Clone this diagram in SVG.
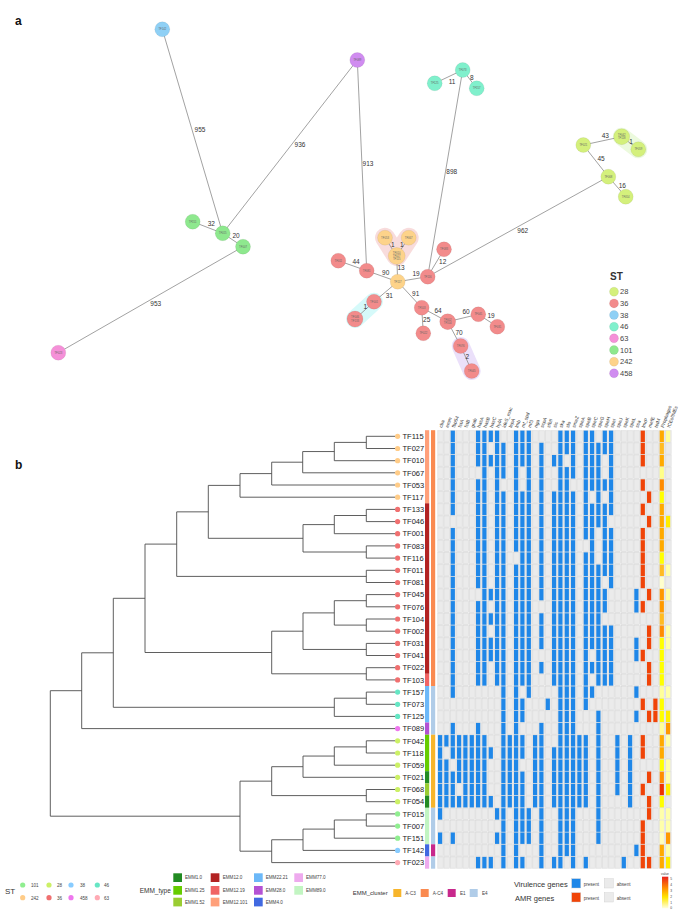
<svg xmlns="http://www.w3.org/2000/svg" xmlns:xlink="http://www.w3.org/1999/xlink" width="685" height="915" viewBox="0 0 685 915">
<style>
text{font-family:"Liberation Sans",Arial,sans-serif}
.e{stroke:#8a8a8a;stroke-width:0.8;fill:none}
.el{font-size:6.5px;fill:#333;text-anchor:middle}
.nl{font-size:2.7px;fill:#666;text-anchor:middle}
.nd circle{stroke:#000;stroke-opacity:0.12;stroke-width:0.5}
.c28{fill:#d4f07c}.c36{fill:#f28b8b}.c38{fill:#8fd0f5}.c46{fill:#80f0cc}.c63{fill:#f590d8}.c101{fill:#8ee88e}.c242{fill:#fdd38a}.c458{fill:#d08cf0}
.d101{fill:#90ee90}.d28{fill:#ccf066}.d38{fill:#88ccff}.d46{fill:#66e6c4}.d242{fill:#ffcc88}.d36{fill:#f07070}.d458{fill:#ee77ee}.d63{fill:#ffaab4}
.tree{stroke:#4d4d4d;stroke-width:0.9;fill:none}
.lf{font-size:7.5px;fill:#222}
.hd{font-size:4.8px;fill:#333}
.sl{font-size:7.5px;fill:#444}
.lg{font-size:4.6px;fill:#444}
.sh{fill:none;stroke-linecap:round;stroke-opacity:0.75}
</style>
<defs>
<pattern id="grid" patternUnits="userSpaceOnUse" x="437.3" y="430.2" width="6.333" height="12.18">
<rect x="0.3" y="0.3" width="5.6" height="11.6" fill="#ebebeb" stroke="#cdcdcd" stroke-width="0.4"/>
</pattern>
<rect id="v" y="0.4" width="4.2" height="11.4" fill="#1f87e8"/>
<rect id="r" y="0.4" width="4.2" height="11.4" fill="#f04408"/>
<linearGradient id="vg" x1="0" y1="0" x2="0" y2="1">
<stop offset="0" stop-color="#e8201c"/><stop offset="0.35" stop-color="#ff8c00"/><stop offset="0.65" stop-color="#ffe600"/><stop offset="1" stop-color="#ffffe0"/>
</linearGradient>
</defs>
<rect width="685" height="915" fill="#fff"/>
<text x="15" y="25" font-size="12" font-weight="bold" fill="#111">a</text>
<text x="15" y="469" font-size="12" font-weight="bold" fill="#111">b</text>

<!-- network shading -->
<g id="shading">
<path class="sh" d="M385,237.7L396.7,256L408.7,237.7" stroke="#f6d0d0" stroke-width="20" stroke-linejoin="round"/>
<path class="sh" d="M374,301.7L355,319" stroke="#c8f8f8" stroke-width="18"/>
<path class="sh" d="M460.7,346L471.7,371" stroke="#e4d6f8" stroke-width="18"/>
<path class="sh" d="M621.7,136.7L638.3,149.3" stroke="#e6f8d2" stroke-width="18"/>
</g>

<g id="network-edges">
<path class="e" d="M162.3,29.3L222.7,233.3M222.7,233.3L357.3,60M222.7,233.3L192.7,221.7M222.7,233.3L243,246.7M243,246.7L58.3,352.7M357.3,60L366.7,270.7M462.7,70L427.7,276.7M462.7,70L434.7,83.3M462.7,70L476.7,88.3M427.7,276.7L608.3,176.7M608.3,176.7L583.3,145M608.3,176.7L625.7,196.7M583.3,145L621.7,136.7M621.7,136.7L638.3,149.3M385,237.7L396.7,256M408.7,237.7L396.7,256M396.7,256L397.7,281.7M397.7,281.7L366.7,270.7M366.7,270.7L338.3,260.7M397.7,281.7L427.7,276.7M427.7,276.7L444,249.3M397.7,281.7L374,301.7M374,301.7L355,319M397.7,281.7L421.7,307.7M421.7,307.7L423.3,333.3M421.7,307.7L447.7,321.7M447.7,321.7L478.3,314.3M478.3,314.3L497.3,326.7M447.7,321.7L460.7,346M460.7,346L471.7,371"/>
<text class="el" x="200" y="131.6">955</text>
<text class="el" x="300" y="147.3">936</text>
<text class="el" x="211.3" y="225.6">32</text>
<text class="el" x="236" y="238">20</text>
<text class="el" x="155.7" y="306.3">953</text>
<text class="el" x="368" y="165.6">913</text>
<text class="el" x="451.7" y="174">898</text>
<text class="el" x="452" y="83.6">11</text>
<text class="el" x="471.7" y="79.6">8</text>
<text class="el" x="522.7" y="233">962</text>
<text class="el" x="601" y="161.3">45</text>
<text class="el" x="622.3" y="187.6">16</text>
<text class="el" x="605.3" y="137.6">43</text>
<text class="el" x="631" y="144">1</text>
<text class="el" x="392.7" y="247.3">1</text>
<text class="el" x="401.7" y="247.3">1</text>
<text class="el" x="401" y="270">13</text>
<text class="el" x="356" y="264">44</text>
<text class="el" x="385.7" y="274.6">90</text>
<text class="el" x="442.7" y="264">12</text>
<text class="el" x="416" y="276.3">19</text>
<text class="el" x="389.3" y="298.3">31</text>
<text class="el" x="365.3" y="309">1</text>
<text class="el" x="415.7" y="295.6">91</text>
<text class="el" x="426.7" y="321.6">25</text>
<text class="el" x="438" y="313">64</text>
<text class="el" x="466" y="314.3">60</text>
<text class="el" x="491" y="318.3">19</text>
<text class="el" x="459" y="334.6">70</text>
<text class="el" x="467.3" y="359">2</text>
</g>

<g id="network-nodes" class="nd">
<g id="n-TF142"><circle class="c38" cx="162.3" cy="29.3" r="7.5"/><text class="nl" x="162.3" y="30.2">TF142</text></g>
<g id="n-TF151"><circle class="c101" cx="192.7" cy="221.7" r="7.5"/><text class="nl" x="192.7" y="222.6">TF151</text></g>
<g id="n-TF015"><circle class="c101" cx="222.7" cy="233.3" r="7.5"/><text class="nl" x="222.7" y="234.2">TF015</text></g>
<g id="n-TF007"><circle class="c101" cx="243" cy="246.7" r="7.5"/><text class="nl" x="243" y="247.6">TF007</text></g>
<g id="n-TF023"><circle class="c63" cx="58.3" cy="352.7" r="7.5"/><text class="nl" x="58.3" y="353.6">TF023</text></g>
<g id="n-TF089"><circle class="c458" cx="357.3" cy="60" r="7.5"/><text class="nl" x="357.3" y="60.9">TF089</text></g>
<g id="n-TF073"><circle class="c46" cx="462.7" cy="70" r="7.5"/><text class="nl" x="462.7" y="70.9">TF073</text></g>
<g id="n-TF125"><circle class="c46" cx="434.7" cy="83.3" r="7.5"/><text class="nl" x="434.7" y="84.2">TF125</text></g>
<g id="n-TF157"><circle class="c46" cx="476.7" cy="88.3" r="7.5"/><text class="nl" x="476.7" y="89.2">TF157</text></g>
<g id="n-TF053"><circle class="c242" cx="385" cy="237.7" r="7.5"/><text class="nl" x="385" y="238.6">TF053</text></g>
<g id="n-TF067"><circle class="c242" cx="408.7" cy="237.7" r="7.5"/><text class="nl" x="408.7" y="238.6">TF067</text></g>
<g id="n-TF010-TF027-TF115"><circle class="c242" cx="396.7" cy="256" r="8.5"/><text class="nl" x="396.7" y="253.6">TF010</text><text class="nl" x="396.7" y="256.9">TF027</text><text class="nl" x="396.7" y="260.2">TF115</text></g>
<g id="n-TF117"><circle class="c242" cx="397.7" cy="281.7" r="7.5"/><text class="nl" x="397.7" y="282.6">TF117</text></g>
<g id="n-TF011"><circle class="c36" cx="338.3" cy="260.7" r="7.5"/><text class="nl" x="338.3" y="261.6">TF011</text></g>
<g id="n-TF081"><circle class="c36" cx="366.7" cy="270.7" r="7.5"/><text class="nl" x="366.7" y="271.6">TF081</text></g>
<g id="n-TF116"><circle class="c36" cx="427.7" cy="276.7" r="7.5"/><text class="nl" x="427.7" y="277.6">TF116</text></g>
<g id="n-TF083"><circle class="c36" cx="444" cy="249.3" r="7.5"/><text class="nl" x="444" y="250.2">TF083</text></g>
<g id="n-TF001"><circle class="c36" cx="374" cy="301.7" r="7.5"/><text class="nl" x="374" y="302.6">TF001</text></g>
<g id="n-TF046-TF133"><circle class="c36" cx="355" cy="319" r="8"/><text class="nl" x="355" y="318.2">TF046</text><text class="nl" x="355" y="321.5">TF133</text></g>
<g id="n-TF103"><circle class="c36" cx="421.7" cy="307.7" r="7.5"/><text class="nl" x="421.7" y="308.6">TF103</text></g>
<g id="n-TF022"><circle class="c36" cx="423.3" cy="333.3" r="7.5"/><text class="nl" x="423.3" y="334.2">TF022</text></g>
<g id="n-TF002-TF104"><circle class="c36" cx="447.7" cy="321.7" r="8"/><text class="nl" x="447.7" y="320.9">TF002</text><text class="nl" x="447.7" y="324.2">TF104</text></g>
<g id="n-TF041"><circle class="c36" cx="478.3" cy="314.3" r="7.5"/><text class="nl" x="478.3" y="315.2">TF041</text></g>
<g id="n-TF031"><circle class="c36" cx="497.3" cy="326.7" r="7.5"/><text class="nl" x="497.3" y="327.6">TF031</text></g>
<g id="n-TF076"><circle class="c36" cx="460.7" cy="346" r="7.5"/><text class="nl" x="460.7" y="346.9">TF076</text></g>
<g id="n-TF045"><circle class="c36" cx="471.7" cy="371" r="7.5"/><text class="nl" x="471.7" y="371.9">TF045</text></g>
<g id="n-TF021"><circle class="c28" cx="583.3" cy="145" r="7.5"/><text class="nl" x="583.3" y="145.9">TF021</text></g>
<g id="n-TF042-TF118"><circle class="c28" cx="621.7" cy="136.7" r="8"/><text class="nl" x="621.7" y="135.9">TF042</text><text class="nl" x="621.7" y="139.2">TF118</text></g>
<g id="n-TF059"><circle class="c28" cx="638.3" cy="149.3" r="7.5"/><text class="nl" x="638.3" y="150.2">TF059</text></g>
<g id="n-TF068"><circle class="c28" cx="608.3" cy="176.7" r="7.5"/><text class="nl" x="608.3" y="177.6">TF068</text></g>
<g id="n-TF054"><circle class="c28" cx="625.7" cy="196.7" r="7.5"/><text class="nl" x="625.7" y="197.6">TF054</text></g>
</g>

<g id="st-legend-a" class="nd">
<text x="610" y="280" font-size="10" font-weight="bold" fill="#333">ST</text>
<circle class="c28" cx="614" cy="291.7" r="4.5"/><text class="sl" x="620" y="294.4">28</text>
<circle class="c36" cx="614" cy="303.4" r="4.5"/><text class="sl" x="620" y="306.1">36</text>
<circle class="c38" cx="614" cy="315" r="4.5"/><text class="sl" x="620" y="317.7">38</text>
<circle class="c46" cx="614" cy="326.7" r="4.5"/><text class="sl" x="620" y="329.4">46</text>
<circle class="c63" cx="614" cy="338.3" r="4.5"/><text class="sl" x="620" y="341">63</text>
<circle class="c101" cx="614" cy="350" r="4.5"/><text class="sl" x="620" y="352.7">101</text>
<circle class="c242" cx="614" cy="361.7" r="4.5"/><text class="sl" x="620" y="364.4">242</text>
<circle class="c458" cx="614" cy="373.3" r="4.5"/><text class="sl" x="620" y="376">458</text>
</g>

<!-- tree -->
<g id="tree-edges">
<path class="tree" d="M50.3,690.7V816.2M81.7,652.8V728.6M113.3,598.3V707.3M145,544.1V652.5M176.7,511.85V576.4M208.3,485.4V538.3M240,473.6V497.2M271.7,462.2V485M302.7,451.55V472.8M334.3,442.4V460.7M366.3,436.3V448.5M366.3,509.4V521.6M334.3,515.5V533.7M366.3,545.9V558.1M303,524.6V552M366.3,570.3V582.5M366.3,594.6V606.8M366.3,619V631.2M334.3,600.7V625.1M366.3,643.4V655.5M303,612.9V649.45M366.3,667.7V679.9M271.7,631.2V673.8M366.3,692.1V704.3M334.3,698.2V716.4M366.3,740.8V753M334.3,746.9V765.2M303,756.05V777.3M366.3,789.5V801.7M271.7,766.7V795.6M366.3,813.9V826.1M334.3,820V838.2M303,829.1V850.4M271.7,839.75V862.6M240,781.15V851.2
M50.3,690.7H81.7M50.3,816.2H240M81.7,652.8H113.3M81.7,728.6H395M113.3,598.3H145M113.3,707.3H334.3M145,544.1H176.7M145,652.5H271.7M176.7,511.85H208.3M176.7,576.4H366.3M208.3,485.4H240M208.3,538.3H303M240,473.6H271.7M240,497.2H395M271.7,462.2H302.7M271.7,485H395M302.7,451.55H334.3M302.7,472.8H395M334.3,442.4H366.3M334.3,460.7H395M366.3,436.3H395M366.3,448.5H395
M303,524.6H334.3M303,552H366.3M334.3,515.5H366.3M334.3,533.7H395M366.3,509.4H395M366.3,521.6H395M366.3,545.9H395M366.3,558.1H395M366.3,570.3H395M366.3,582.5H395
M271.7,631.2H303M271.7,673.8H366.3M303,612.9H334.3M303,649.45H366.3M334.3,600.7H366.3M334.3,625.1H366.3M366.3,594.6H395M366.3,606.8H395M366.3,619H395M366.3,631.2H395M366.3,643.4H395M366.3,655.5H395M366.3,667.7H395M366.3,679.9H395
M334.3,698.2H366.3M334.3,716.4H395M366.3,692.1H395M366.3,704.3H395
M240,781.15H271.7M240,851.2H271.7M271.7,766.7H303M271.7,795.6H366.3M303,756.05H334.3M303,777.3H395M334.3,746.9H366.3M334.3,765.2H395M366.3,740.8H395M366.3,753H395M366.3,789.5H395M366.3,801.7H395
M271.7,839.75H303M271.7,862.6H395M303,829.1H334.3M303,850.4H395M334.3,820H366.3M334.3,838.2H395M366.3,813.9H395M366.3,826.1H395"/>
</g>

<g id="tree-leaves">
<g id="l-TF115"><circle class="d242" cx="397.6" cy="436.3" r="2.6"/><text class="lf" x="402.5" y="439">TF115</text></g>
<g id="l-TF027"><circle class="d242" cx="397.6" cy="448.5" r="2.6"/><text class="lf" x="402.5" y="451.2">TF027</text></g>
<g id="l-TF010"><circle class="d242" cx="397.6" cy="460.7" r="2.6"/><text class="lf" x="402.5" y="463.4">TF010</text></g>
<g id="l-TF067"><circle class="d242" cx="397.6" cy="472.8" r="2.6"/><text class="lf" x="402.5" y="475.5">TF067</text></g>
<g id="l-TF053"><circle class="d242" cx="397.6" cy="485" r="2.6"/><text class="lf" x="402.5" y="487.7">TF053</text></g>
<g id="l-TF117"><circle class="d242" cx="397.6" cy="497.2" r="2.6"/><text class="lf" x="402.5" y="499.9">TF117</text></g>
<g id="l-TF133"><circle class="d36" cx="397.6" cy="509.4" r="2.6"/><text class="lf" x="402.5" y="512.1">TF133</text></g>
<g id="l-TF046"><circle class="d36" cx="397.6" cy="521.6" r="2.6"/><text class="lf" x="402.5" y="524.3">TF046</text></g>
<g id="l-TF001"><circle class="d36" cx="397.6" cy="533.7" r="2.6"/><text class="lf" x="402.5" y="536.4">TF001</text></g>
<g id="l-TF083"><circle class="d36" cx="397.6" cy="545.9" r="2.6"/><text class="lf" x="402.5" y="548.6">TF083</text></g>
<g id="l-TF116"><circle class="d36" cx="397.6" cy="558.1" r="2.6"/><text class="lf" x="402.5" y="560.8">TF116</text></g>
<g id="l-TF011"><circle class="d36" cx="397.6" cy="570.3" r="2.6"/><text class="lf" x="402.5" y="573">TF011</text></g>
<g id="l-TF081"><circle class="d36" cx="397.6" cy="582.5" r="2.6"/><text class="lf" x="402.5" y="585.2">TF081</text></g>
<g id="l-TF045"><circle class="d36" cx="397.6" cy="594.6" r="2.6"/><text class="lf" x="402.5" y="597.3">TF045</text></g>
<g id="l-TF076"><circle class="d36" cx="397.6" cy="606.8" r="2.6"/><text class="lf" x="402.5" y="609.5">TF076</text></g>
<g id="l-TF104"><circle class="d36" cx="397.6" cy="619" r="2.6"/><text class="lf" x="402.5" y="621.7">TF104</text></g>
<g id="l-TF002"><circle class="d36" cx="397.6" cy="631.2" r="2.6"/><text class="lf" x="402.5" y="633.9">TF002</text></g>
<g id="l-TF031"><circle class="d36" cx="397.6" cy="643.4" r="2.6"/><text class="lf" x="402.5" y="646.1">TF031</text></g>
<g id="l-TF041"><circle class="d36" cx="397.6" cy="655.5" r="2.6"/><text class="lf" x="402.5" y="658.2">TF041</text></g>
<g id="l-TF022"><circle class="d36" cx="397.6" cy="667.7" r="2.6"/><text class="lf" x="402.5" y="670.4">TF022</text></g>
<g id="l-TF103"><circle class="d36" cx="397.6" cy="679.9" r="2.6"/><text class="lf" x="402.5" y="682.6">TF103</text></g>
<g id="l-TF157"><circle class="d46" cx="397.6" cy="692.1" r="2.6"/><text class="lf" x="402.5" y="694.8">TF157</text></g>
<g id="l-TF073"><circle class="d46" cx="397.6" cy="704.3" r="2.6"/><text class="lf" x="402.5" y="707">TF073</text></g>
<g id="l-TF125"><circle class="d46" cx="397.6" cy="716.4" r="2.6"/><text class="lf" x="402.5" y="719.1">TF125</text></g>
<g id="l-TF089"><circle class="d458" cx="397.6" cy="728.6" r="2.6"/><text class="lf" x="402.5" y="731.3">TF089</text></g>
<g id="l-TF042"><circle class="d28" cx="397.6" cy="740.8" r="2.6"/><text class="lf" x="402.5" y="743.5">TF042</text></g>
<g id="l-TF118"><circle class="d28" cx="397.6" cy="753" r="2.6"/><text class="lf" x="402.5" y="755.7">TF118</text></g>
<g id="l-TF059"><circle class="d28" cx="397.6" cy="765.2" r="2.6"/><text class="lf" x="402.5" y="767.9">TF059</text></g>
<g id="l-TF021"><circle class="d28" cx="397.6" cy="777.3" r="2.6"/><text class="lf" x="402.5" y="780">TF021</text></g>
<g id="l-TF068"><circle class="d28" cx="397.6" cy="789.5" r="2.6"/><text class="lf" x="402.5" y="792.2">TF068</text></g>
<g id="l-TF054"><circle class="d28" cx="397.6" cy="801.7" r="2.6"/><text class="lf" x="402.5" y="804.4">TF054</text></g>
<g id="l-TF015"><circle class="d101" cx="397.6" cy="813.9" r="2.6"/><text class="lf" x="402.5" y="816.6">TF015</text></g>
<g id="l-TF007"><circle class="d101" cx="397.6" cy="826.1" r="2.6"/><text class="lf" x="402.5" y="828.8">TF007</text></g>
<g id="l-TF151"><circle class="d101" cx="397.6" cy="838.2" r="2.6"/><text class="lf" x="402.5" y="840.9">TF151</text></g>
<g id="l-TF142"><circle class="d38" cx="397.6" cy="850.4" r="2.6"/><text class="lf" x="402.5" y="853.1">TF142</text></g>
<g id="l-TF023"><circle class="d63" cx="397.6" cy="862.6" r="2.6"/><text class="lf" x="402.5" y="865.3">TF023</text></g>
</g>

<!-- annotation strips -->
<g id="emm-type-strip">
<rect x="425" y="430.2" width="4.2" height="73.1" fill="#ffa07a"/>
<rect x="425" y="503.3" width="4.2" height="170.5" fill="#b22222"/>
<rect x="425" y="673.8" width="4.2" height="12.2" fill="#f06464"/>
<rect x="425" y="686" width="4.2" height="36.5" fill="#6cb8f8"/>
<rect x="425" y="722.5" width="4.2" height="12.2" fill="#b452d4"/>
<rect x="425" y="734.7" width="4.2" height="36.5" fill="#66cc00"/>
<rect x="425" y="771.2" width="4.2" height="12.2" fill="#228b22"/>
<rect x="425" y="783.4" width="4.2" height="12.2" fill="#9acd32"/>
<rect x="425" y="795.6" width="4.2" height="12.2" fill="#228b22"/>
<rect x="425" y="807.8" width="4.2" height="36.5" fill="#c2f5c2"/>
<rect x="425" y="844.3" width="4.2" height="12.2" fill="#4169e1"/>
<rect x="425" y="856.5" width="4.2" height="12.2" fill="#eeaaee"/>
</g>
<g id="emm-cluster-strip">
<rect x="431" y="430.2" width="4.2" height="255.8" fill="#fa8a50"/>
<rect x="431" y="686" width="4.2" height="48.7" fill="#b0cce8"/>
<rect x="431" y="734.7" width="4.2" height="73.1" fill="#f7b52c"/>
<rect x="431" y="807.8" width="4.2" height="36.5" fill="#b0cce8"/>
<rect x="431" y="844.3" width="4.2" height="12.2" fill="#c8288c"/>
<rect x="431" y="856.5" width="4.2" height="12.2" fill="#b0cce8"/>
</g>

<!-- heatmap header -->
<g id="heatmap-header" class="hd">
<text transform="translate(442,428) rotate(-70)">cba</text>
<text transform="translate(448.3,428) rotate(-70)">emm</text>
<text transform="translate(454.7,428) rotate(-70)">fbp54</text>
<text transform="translate(461,428) rotate(-70)">fctA</text>
<text transform="translate(467.3,428) rotate(-70)">fctB</text>
<text transform="translate(473.7,428) rotate(-70)">grab</text>
<text transform="translate(480,428) rotate(-70)">hasA</text>
<text transform="translate(486.3,428) rotate(-70)">hasB</text>
<text transform="translate(492.7,428) rotate(-70)">hasC</text>
<text transform="translate(499,428) rotate(-70)">hylA</text>
<text transform="translate(505.3,428) rotate(-70)">ideS_mac</text>
<text transform="translate(511.7,428) rotate(-70)">lepA</text>
<text transform="translate(518,428) rotate(-70)">lmb</text>
<text transform="translate(524.3,428) rotate(-70)">mf_spd</text>
<text transform="translate(530.7,428) rotate(-70)">mf3</text>
<text transform="translate(537,428) rotate(-70)">nga</text>
<text transform="translate(543.3,428) rotate(-70)">scpA</text>
<text transform="translate(549.7,428) rotate(-70)">sfbII</text>
<text transform="translate(556,428) rotate(-70)">sic</text>
<text transform="translate(562.3,428) rotate(-70)">ska</text>
<text transform="translate(568.7,428) rotate(-70)">slo</text>
<text transform="translate(575,428) rotate(-70)">smeZ</text>
<text transform="translate(581.3,428) rotate(-70)">speA</text>
<text transform="translate(587.7,428) rotate(-70)">speB</text>
<text transform="translate(594,428) rotate(-70)">speC</text>
<text transform="translate(600.3,428) rotate(-70)">speG</text>
<text transform="translate(606.7,428) rotate(-70)">speH</text>
<text transform="translate(613,428) rotate(-70)">speI</text>
<text transform="translate(619.3,428) rotate(-70)">speJ</text>
<text transform="translate(625.7,428) rotate(-70)">speK</text>
<text transform="translate(632,428) rotate(-70)">speL</text>
<text transform="translate(638.3,428) rotate(-70)">ssa</text>
<text transform="translate(644.7,428) rotate(-70)">lmrP</text>
<text transform="translate(651,428) rotate(-70)">mefE</text>
<text transform="translate(657.3,428) rotate(-70)">tetM</text>
<text transform="translate(663.7,428) rotate(-70)">Prophages</text>
<text transform="translate(670,428) rotate(-70)">ICEs/IMEs</text>
</g>

<!-- heatmap -->
<g id="heatmap">
<rect x="437.3" y="430.2" width="234.3" height="438.5" fill="url(#grid)"/>
<g transform="translate(0,430.2)"><use href="#v" x="450.7"/><use href="#v" x="476"/><use href="#v" x="482.3"/><use href="#v" x="488.7"/><use href="#v" x="495"/><use href="#v" x="514"/><use href="#v" x="520.3"/><use href="#v" x="526.7"/><use href="#v" x="558.3"/><use href="#v" x="564.7"/><use href="#v" x="571"/><use href="#v" x="583.7"/><use href="#v" x="590"/><use href="#v" x="602.7"/><use href="#v" x="609"/><use href="#r" x="640.7"/><rect x="659.7" y="0.4" width="4.2" height="11.4" fill="#ffaa00"/><rect x="666" y="0.4" width="4.2" height="11.4" fill="#ffff99"/></g>
<g transform="translate(0,442.4)"><use href="#v" x="450.7"/><use href="#v" x="476"/><use href="#v" x="482.3"/><use href="#v" x="495"/><use href="#v" x="501.3"/><use href="#v" x="514"/><use href="#v" x="520.3"/><use href="#v" x="526.7"/><use href="#v" x="539.3"/><use href="#v" x="558.3"/><use href="#v" x="564.7"/><use href="#v" x="571"/><use href="#v" x="583.7"/><use href="#v" x="590"/><use href="#v" x="596.3"/><use href="#v" x="602.7"/><use href="#v" x="609"/><use href="#r" x="640.7"/><rect x="659.7" y="0.4" width="4.2" height="11.4" fill="#ffbb22"/></g>
<g transform="translate(0,454.6)"><use href="#v" x="450.7"/><use href="#v" x="476"/><use href="#v" x="482.3"/><use href="#v" x="488.7"/><use href="#v" x="495"/><use href="#v" x="501.3"/><use href="#v" x="514"/><use href="#v" x="520.3"/><use href="#v" x="526.7"/><use href="#v" x="539.3"/><use href="#v" x="552"/><use href="#v" x="558.3"/><use href="#v" x="571"/><use href="#v" x="583.7"/><use href="#v" x="590"/><use href="#v" x="596.3"/><use href="#v" x="609"/><use href="#r" x="640.7"/><rect x="659.7" y="0.4" width="4.2" height="11.4" fill="#ffaa00"/></g>
<g transform="translate(0,466.7)"><use href="#v" x="450.7"/><use href="#v" x="482.3"/><use href="#v" x="495"/><use href="#v" x="501.3"/><use href="#v" x="514"/><use href="#v" x="526.7"/><use href="#v" x="539.3"/><use href="#v" x="558.3"/><use href="#v" x="564.7"/><use href="#v" x="571"/><use href="#v" x="583.7"/><use href="#v" x="590"/><use href="#v" x="596.3"/><use href="#v" x="609"/><rect x="659.7" y="0.4" width="4.2" height="11.4" fill="#ffff88"/></g>
<g transform="translate(0,478.9)"><use href="#v" x="450.7"/><use href="#v" x="476"/><use href="#v" x="482.3"/><use href="#v" x="495"/><use href="#v" x="514"/><use href="#v" x="526.7"/><use href="#v" x="539.3"/><use href="#v" x="558.3"/><use href="#v" x="564.7"/><use href="#v" x="583.7"/><use href="#v" x="590"/><use href="#v" x="596.3"/><use href="#v" x="602.7"/><use href="#v" x="609"/><use href="#r" x="640.7"/><rect x="659.7" y="0.4" width="4.2" height="11.4" fill="#ff8c00"/></g>
<g transform="translate(0,491.1)"><use href="#v" x="450.7"/><use href="#v" x="476"/><use href="#v" x="482.3"/><use href="#v" x="495"/><use href="#v" x="501.3"/><use href="#v" x="514"/><use href="#v" x="520.3"/><use href="#v" x="526.7"/><use href="#v" x="539.3"/><use href="#v" x="552"/><use href="#v" x="558.3"/><use href="#v" x="564.7"/><use href="#v" x="571"/><use href="#v" x="583.7"/><use href="#v" x="596.3"/><use href="#v" x="609"/><use href="#r" x="647"/><rect x="659.7" y="0.4" width="4.2" height="11.4" fill="#ffff00"/></g>
<g transform="translate(0,503.3)"><use href="#v" x="450.7"/><use href="#v" x="476"/><use href="#v" x="482.3"/><use href="#v" x="495"/><use href="#v" x="501.3"/><use href="#v" x="514"/><use href="#v" x="520.3"/><use href="#v" x="526.7"/><use href="#v" x="539.3"/><use href="#v" x="552"/><use href="#v" x="558.3"/><use href="#v" x="564.7"/><use href="#v" x="571"/><use href="#v" x="583.7"/><use href="#v" x="590"/><use href="#v" x="596.3"/><use href="#v" x="602.7"/><use href="#v" x="609"/><use href="#r" x="640.7"/><rect x="659.7" y="0.4" width="4.2" height="11.4" fill="#ffaa00"/></g>
<g transform="translate(0,515.5)"><use href="#v" x="476"/><use href="#v" x="482.3"/><use href="#v" x="495"/><use href="#v" x="501.3"/><use href="#v" x="514"/><use href="#v" x="520.3"/><use href="#v" x="526.7"/><use href="#v" x="539.3"/><use href="#v" x="552"/><use href="#v" x="558.3"/><use href="#v" x="564.7"/><use href="#v" x="571"/><use href="#v" x="583.7"/><use href="#v" x="590"/><use href="#v" x="596.3"/><use href="#v" x="602.7"/><use href="#r" x="647"/><rect x="659.7" y="0.4" width="4.2" height="11.4" fill="#ffaa00"/><rect x="666" y="0.4" width="4.2" height="11.4" fill="#ffee00"/></g>
<g transform="translate(0,527.6)"><use href="#v" x="450.7"/><use href="#v" x="476"/><use href="#v" x="482.3"/><use href="#v" x="495"/><use href="#v" x="501.3"/><use href="#v" x="514"/><use href="#v" x="520.3"/><use href="#v" x="526.7"/><use href="#v" x="539.3"/><use href="#v" x="552"/><use href="#v" x="558.3"/><use href="#v" x="564.7"/><use href="#v" x="571"/><use href="#v" x="583.7"/><use href="#v" x="590"/><use href="#v" x="602.7"/><use href="#v" x="609"/><use href="#r" x="640.7"/><rect x="659.7" y="0.4" width="4.2" height="11.4" fill="#ffaa00"/></g>
<g transform="translate(0,539.8)"><use href="#v" x="450.7"/><use href="#v" x="476"/><use href="#v" x="482.3"/><use href="#v" x="495"/><use href="#v" x="501.3"/><use href="#v" x="514"/><use href="#v" x="520.3"/><use href="#v" x="526.7"/><use href="#v" x="539.3"/><use href="#v" x="552"/><use href="#v" x="558.3"/><use href="#v" x="564.7"/><use href="#v" x="571"/><use href="#v" x="590"/><use href="#v" x="602.7"/><use href="#v" x="609"/><use href="#r" x="640.7"/><rect x="659.7" y="0.4" width="4.2" height="11.4" fill="#ffaa00"/></g>
<g transform="translate(0,552)"><use href="#v" x="450.7"/><use href="#v" x="476"/><use href="#v" x="482.3"/><use href="#v" x="495"/><use href="#v" x="501.3"/><use href="#v" x="520.3"/><use href="#v" x="526.7"/><use href="#v" x="539.3"/><use href="#v" x="552"/><use href="#v" x="558.3"/><use href="#v" x="564.7"/><use href="#v" x="571"/><use href="#v" x="583.7"/><use href="#v" x="590"/><use href="#v" x="602.7"/><use href="#v" x="609"/><use href="#r" x="640.7"/><rect x="659.7" y="0.4" width="4.2" height="11.4" fill="#ffff00"/></g>
<g transform="translate(0,564.2)"><use href="#v" x="450.7"/><use href="#v" x="476"/><use href="#v" x="482.3"/><use href="#v" x="495"/><use href="#v" x="501.3"/><use href="#v" x="514"/><use href="#v" x="520.3"/><use href="#v" x="526.7"/><use href="#v" x="539.3"/><use href="#v" x="552"/><use href="#v" x="558.3"/><use href="#v" x="564.7"/><use href="#v" x="571"/><use href="#v" x="583.7"/><use href="#v" x="590"/><use href="#v" x="596.3"/><use href="#v" x="602.7"/><use href="#v" x="609"/><use href="#r" x="640.7"/><rect x="659.7" y="0.4" width="4.2" height="11.4" fill="#ffbb22"/><rect x="666" y="0.4" width="4.2" height="11.4" fill="#ffffaa"/></g>
<g transform="translate(0,576.4)"><use href="#v" x="450.7"/><use href="#v" x="476"/><use href="#v" x="482.3"/><use href="#v" x="495"/><use href="#v" x="501.3"/><use href="#v" x="514"/><use href="#v" x="520.3"/><use href="#v" x="526.7"/><use href="#v" x="539.3"/><use href="#v" x="552"/><use href="#v" x="558.3"/><use href="#v" x="564.7"/><use href="#v" x="571"/><use href="#v" x="583.7"/><use href="#v" x="590"/><use href="#v" x="596.3"/><use href="#v" x="609"/><use href="#r" x="640.7"/><rect x="659.7" y="0.4" width="4.2" height="11.4" fill="#ffffcc"/></g>
<g transform="translate(0,588.5)"><use href="#v" x="450.7"/><use href="#v" x="482.3"/><use href="#v" x="488.7"/><use href="#v" x="495"/><use href="#v" x="501.3"/><use href="#v" x="514"/><use href="#v" x="520.3"/><use href="#v" x="526.7"/><use href="#v" x="539.3"/><use href="#v" x="552"/><use href="#v" x="558.3"/><use href="#v" x="564.7"/><use href="#v" x="571"/><use href="#v" x="583.7"/><use href="#v" x="590"/><use href="#v" x="596.3"/><use href="#v" x="602.7"/><use href="#v" x="634.3"/><use href="#r" x="647"/><rect x="659.7" y="0.4" width="4.2" height="11.4" fill="#ff9900"/><rect x="666" y="0.4" width="4.2" height="11.4" fill="#ffffaa"/></g>
<g transform="translate(0,600.7)"><use href="#v" x="450.7"/><use href="#v" x="476"/><use href="#v" x="482.3"/><use href="#v" x="495"/><use href="#v" x="501.3"/><use href="#v" x="514"/><use href="#v" x="520.3"/><use href="#v" x="526.7"/><use href="#v" x="552"/><use href="#v" x="558.3"/><use href="#v" x="564.7"/><use href="#v" x="571"/><use href="#v" x="583.7"/><use href="#v" x="590"/><use href="#v" x="596.3"/><use href="#v" x="602.7"/><use href="#v" x="634.3"/><use href="#r" x="640.7"/><rect x="659.7" y="0.4" width="4.2" height="11.4" fill="#ff9900"/></g>
<g transform="translate(0,612.9)"><use href="#v" x="450.7"/><use href="#v" x="476"/><use href="#v" x="482.3"/><use href="#v" x="488.7"/><use href="#v" x="495"/><use href="#v" x="501.3"/><use href="#v" x="514"/><use href="#v" x="520.3"/><use href="#v" x="526.7"/><use href="#v" x="539.3"/><use href="#v" x="552"/><use href="#v" x="558.3"/><use href="#v" x="564.7"/><use href="#v" x="571"/><use href="#v" x="583.7"/><use href="#v" x="590"/><use href="#v" x="596.3"/><rect x="659.7" y="0.4" width="4.2" height="11.4" fill="#ffbb22"/></g>
<g transform="translate(0,625.1)"><use href="#v" x="450.7"/><use href="#v" x="476"/><use href="#v" x="482.3"/><use href="#v" x="495"/><use href="#v" x="501.3"/><use href="#v" x="514"/><use href="#v" x="520.3"/><use href="#v" x="526.7"/><use href="#v" x="539.3"/><use href="#v" x="552"/><use href="#v" x="558.3"/><use href="#v" x="564.7"/><use href="#v" x="571"/><use href="#v" x="583.7"/><use href="#v" x="590"/><use href="#v" x="596.3"/><use href="#v" x="602.7"/><use href="#v" x="609"/><use href="#r" x="647"/><rect x="659.7" y="0.4" width="4.2" height="11.4" fill="#ff8c00"/><rect x="666" y="0.4" width="4.2" height="11.4" fill="#ffffaa"/></g>
<g transform="translate(0,637.3)"><use href="#v" x="450.7"/><use href="#v" x="476"/><use href="#v" x="482.3"/><use href="#v" x="488.7"/><use href="#v" x="495"/><use href="#v" x="501.3"/><use href="#v" x="514"/><use href="#v" x="520.3"/><use href="#v" x="526.7"/><use href="#v" x="539.3"/><use href="#v" x="552"/><use href="#v" x="558.3"/><use href="#v" x="564.7"/><use href="#v" x="571"/><use href="#v" x="583.7"/><use href="#v" x="590"/><use href="#v" x="596.3"/><use href="#v" x="602.7"/><use href="#v" x="609"/><use href="#v" x="634.3"/><use href="#r" x="647"/><rect x="659.7" y="0.4" width="4.2" height="11.4" fill="#ffff00"/><rect x="666" y="0.4" width="4.2" height="11.4" fill="#ffffaa"/></g>
<g transform="translate(0,649.4)"><use href="#v" x="450.7"/><use href="#v" x="476"/><use href="#v" x="482.3"/><use href="#v" x="488.7"/><use href="#v" x="495"/><use href="#v" x="501.3"/><use href="#v" x="514"/><use href="#v" x="520.3"/><use href="#v" x="526.7"/><use href="#v" x="552"/><use href="#v" x="558.3"/><use href="#v" x="564.7"/><use href="#v" x="571"/><use href="#v" x="583.7"/><use href="#v" x="596.3"/><use href="#v" x="602.7"/><use href="#v" x="609"/><use href="#v" x="634.3"/><use href="#r" x="640.7"/><rect x="659.7" y="0.4" width="4.2" height="11.4" fill="#ffff00"/></g>
<g transform="translate(0,661.6)"><use href="#v" x="450.7"/><use href="#v" x="476"/><use href="#v" x="482.3"/><use href="#v" x="495"/><use href="#v" x="501.3"/><use href="#v" x="514"/><use href="#v" x="520.3"/><use href="#v" x="526.7"/><use href="#v" x="539.3"/><use href="#v" x="552"/><use href="#v" x="558.3"/><use href="#v" x="564.7"/><use href="#v" x="571"/><use href="#v" x="583.7"/><use href="#v" x="590"/><use href="#v" x="596.3"/><use href="#v" x="602.7"/><use href="#v" x="609"/><use href="#r" x="647"/><rect x="659.7" y="0.4" width="4.2" height="11.4" fill="#ffff00"/></g>
<g transform="translate(0,673.8)"><use href="#v" x="450.7"/><use href="#v" x="476"/><use href="#v" x="482.3"/><use href="#v" x="495"/><use href="#v" x="501.3"/><use href="#v" x="514"/><use href="#v" x="520.3"/><use href="#v" x="526.7"/><use href="#v" x="552"/><use href="#v" x="558.3"/><use href="#v" x="564.7"/><use href="#v" x="571"/><use href="#v" x="583.7"/><use href="#v" x="596.3"/><use href="#v" x="602.7"/><use href="#v" x="609"/><use href="#r" x="647"/><rect x="659.7" y="0.4" width="4.2" height="11.4" fill="#ffff00"/></g>
<g transform="translate(0,686)"><use href="#v" x="450.7"/><use href="#v" x="501.3"/><use href="#v" x="514"/><use href="#v" x="526.7"/><use href="#v" x="558.3"/><use href="#v" x="564.7"/><use href="#v" x="571"/><use href="#v" x="583.7"/><use href="#v" x="590"/><use href="#v" x="634.3"/><rect x="659.7" y="0.4" width="4.2" height="11.4" fill="#ffff99"/><rect x="666" y="0.4" width="4.2" height="11.4" fill="#ffffaa"/></g>
<g transform="translate(0,698.2)"><use href="#v" x="501.3"/><use href="#v" x="514"/><use href="#v" x="520.3"/><use href="#v" x="545.7"/><use href="#v" x="558.3"/><use href="#v" x="564.7"/><use href="#v" x="571"/><use href="#v" x="583.7"/><use href="#r" x="640.7"/><use href="#r" x="653.3"/><rect x="659.7" y="0.4" width="4.2" height="11.4" fill="#ffff00"/></g>
<g transform="translate(0,710.3)"><use href="#v" x="501.3"/><use href="#v" x="514"/><use href="#v" x="520.3"/><use href="#v" x="558.3"/><use href="#v" x="564.7"/><use href="#v" x="571"/><use href="#v" x="596.3"/><use href="#v" x="634.3"/><use href="#r" x="647"/><use href="#r" x="653.3"/><rect x="659.7" y="0.4" width="4.2" height="11.4" fill="#ffff00"/><rect x="666" y="0.4" width="4.2" height="11.4" fill="#ffee00"/></g>
<g transform="translate(0,722.5)"><use href="#v" x="450.7"/><use href="#v" x="476"/><use href="#v" x="501.3"/><use href="#v" x="514"/><use href="#v" x="539.3"/><use href="#v" x="558.3"/><use href="#v" x="564.7"/><use href="#v" x="571"/><use href="#v" x="596.3"/><rect x="659.7" y="0.4" width="4.2" height="11.4" fill="#ffff99"/><rect x="666" y="0.4" width="4.2" height="11.4" fill="#ff9900"/></g>
<g transform="translate(0,734.7)"><use href="#v" x="438"/><use href="#v" x="444.3"/><use href="#v" x="450.7"/><use href="#v" x="457"/><use href="#v" x="463.3"/><use href="#v" x="469.7"/><use href="#v" x="476"/><use href="#v" x="482.3"/><use href="#v" x="501.3"/><use href="#v" x="507.7"/><use href="#v" x="514"/><use href="#v" x="520.3"/><use href="#v" x="533"/><use href="#v" x="539.3"/><use href="#v" x="558.3"/><use href="#v" x="564.7"/><use href="#v" x="571"/><use href="#v" x="577.3"/><use href="#v" x="583.7"/><use href="#v" x="596.3"/><use href="#v" x="615.3"/><use href="#v" x="628"/><use href="#r" x="640.7"/><rect x="659.7" y="0.4" width="4.2" height="11.4" fill="#ffaa00"/><rect x="666" y="0.4" width="4.2" height="11.4" fill="#ffffaa"/></g>
<g transform="translate(0,746.9)"><use href="#v" x="438"/><use href="#v" x="450.7"/><use href="#v" x="457"/><use href="#v" x="463.3"/><use href="#v" x="469.7"/><use href="#v" x="476"/><use href="#v" x="482.3"/><use href="#v" x="488.7"/><use href="#v" x="501.3"/><use href="#v" x="507.7"/><use href="#v" x="514"/><use href="#v" x="520.3"/><use href="#v" x="533"/><use href="#v" x="539.3"/><use href="#v" x="552"/><use href="#v" x="558.3"/><use href="#v" x="564.7"/><use href="#v" x="571"/><use href="#v" x="577.3"/><use href="#v" x="583.7"/><use href="#v" x="596.3"/><use href="#v" x="615.3"/><use href="#v" x="628"/><use href="#r" x="640.7"/><rect x="659.7" y="0.4" width="4.2" height="11.4" fill="#ffaa00"/></g>
<g transform="translate(0,759.1)"><use href="#v" x="438"/><use href="#v" x="444.3"/><use href="#v" x="457"/><use href="#v" x="463.3"/><use href="#v" x="469.7"/><use href="#v" x="476"/><use href="#v" x="482.3"/><use href="#v" x="501.3"/><use href="#v" x="507.7"/><use href="#v" x="514"/><use href="#v" x="533"/><use href="#v" x="539.3"/><use href="#v" x="552"/><use href="#v" x="558.3"/><use href="#v" x="564.7"/><use href="#v" x="571"/><use href="#v" x="577.3"/><use href="#v" x="583.7"/><use href="#v" x="596.3"/><use href="#v" x="615.3"/><use href="#v" x="628"/><rect x="659.7" y="0.4" width="4.2" height="11.4" fill="#ffff00"/><rect x="666" y="0.4" width="4.2" height="11.4" fill="#ffffaa"/></g>
<g transform="translate(0,771.2)"><use href="#v" x="438"/><use href="#v" x="444.3"/><use href="#v" x="450.7"/><use href="#v" x="457"/><use href="#v" x="463.3"/><use href="#v" x="469.7"/><use href="#v" x="476"/><use href="#v" x="482.3"/><use href="#v" x="501.3"/><use href="#v" x="507.7"/><use href="#v" x="514"/><use href="#v" x="520.3"/><use href="#v" x="533"/><use href="#v" x="539.3"/><use href="#v" x="552"/><use href="#v" x="558.3"/><use href="#v" x="564.7"/><use href="#v" x="571"/><use href="#v" x="577.3"/><use href="#v" x="583.7"/><use href="#v" x="596.3"/><use href="#v" x="615.3"/><use href="#v" x="628"/><use href="#r" x="647"/><rect x="659.7" y="0.4" width="4.2" height="11.4" fill="#ff8c00"/><rect x="666" y="0.4" width="4.2" height="11.4" fill="#ffffaa"/></g>
<g transform="translate(0,783.4)"><use href="#v" x="438"/><use href="#v" x="444.3"/><use href="#v" x="450.7"/><use href="#v" x="463.3"/><use href="#v" x="469.7"/><use href="#v" x="476"/><use href="#v" x="482.3"/><use href="#v" x="501.3"/><use href="#v" x="507.7"/><use href="#v" x="514"/><use href="#v" x="520.3"/><use href="#v" x="533"/><use href="#v" x="539.3"/><use href="#v" x="552"/><use href="#v" x="558.3"/><use href="#v" x="564.7"/><use href="#v" x="571"/><use href="#v" x="577.3"/><use href="#v" x="583.7"/><use href="#v" x="596.3"/><use href="#v" x="615.3"/><use href="#v" x="628"/><use href="#r" x="640.7"/><rect x="659.7" y="0.4" width="4.2" height="11.4" fill="#ee3300"/><rect x="666" y="0.4" width="4.2" height="11.4" fill="#ffee00"/></g>
<g transform="translate(0,795.6)"><use href="#v" x="438"/><use href="#v" x="444.3"/><use href="#v" x="450.7"/><use href="#v" x="457"/><use href="#v" x="463.3"/><use href="#v" x="469.7"/><use href="#v" x="476"/><use href="#v" x="482.3"/><use href="#v" x="488.7"/><use href="#v" x="501.3"/><use href="#v" x="507.7"/><use href="#v" x="514"/><use href="#v" x="520.3"/><use href="#v" x="533"/><use href="#v" x="539.3"/><use href="#v" x="552"/><use href="#v" x="558.3"/><use href="#v" x="564.7"/><use href="#v" x="571"/><use href="#v" x="577.3"/><use href="#v" x="583.7"/><use href="#v" x="596.3"/><use href="#v" x="628"/><use href="#r" x="647"/><rect x="659.7" y="0.4" width="4.2" height="11.4" fill="#ffff00"/></g>
<g transform="translate(0,807.8)"><use href="#v" x="438"/><use href="#v" x="495"/><use href="#v" x="501.3"/><use href="#v" x="514"/><use href="#v" x="520.3"/><use href="#v" x="526.7"/><use href="#v" x="539.3"/><use href="#v" x="558.3"/><use href="#v" x="564.7"/><use href="#v" x="571"/><use href="#v" x="596.3"/><use href="#r" x="647"/><rect x="659.7" y="0.4" width="4.2" height="11.4" fill="#ffffaa"/><rect x="666" y="0.4" width="4.2" height="11.4" fill="#ffffaa"/></g>
<g transform="translate(0,820)"><use href="#v" x="501.3"/><use href="#v" x="514"/><use href="#v" x="520.3"/><use href="#v" x="526.7"/><use href="#v" x="539.3"/><use href="#v" x="558.3"/><use href="#v" x="564.7"/><use href="#v" x="571"/><use href="#v" x="596.3"/><use href="#r" x="640.7"/><rect x="659.7" y="0.4" width="4.2" height="11.4" fill="#ffffaa"/><rect x="666" y="0.4" width="4.2" height="11.4" fill="#ffffaa"/></g>
<g transform="translate(0,832.1)"><use href="#v" x="438"/><use href="#v" x="450.7"/><use href="#v" x="495"/><use href="#v" x="501.3"/><use href="#v" x="514"/><use href="#v" x="520.3"/><use href="#v" x="526.7"/><use href="#v" x="539.3"/><use href="#v" x="558.3"/><use href="#v" x="564.7"/><use href="#v" x="571"/><use href="#v" x="596.3"/><use href="#r" x="640.7"/><rect x="659.7" y="0.4" width="4.2" height="11.4" fill="#ffffbb"/><rect x="666" y="0.4" width="4.2" height="11.4" fill="#ff9900"/></g>
<g transform="translate(0,844.3)"><use href="#v" x="501.3"/><use href="#v" x="514"/><use href="#v" x="539.3"/><use href="#v" x="558.3"/><use href="#v" x="564.7"/><use href="#v" x="571"/><use href="#v" x="634.3"/><use href="#r" x="640.7"/><rect x="659.7" y="0.4" width="4.2" height="11.4" fill="#ffaa00"/><rect x="666" y="0.4" width="4.2" height="11.4" fill="#ffffaa"/></g>
<g transform="translate(0,856.5)"><use href="#v" x="476"/><use href="#v" x="482.3"/><use href="#v" x="488.7"/><use href="#v" x="501.3"/><use href="#v" x="514"/><use href="#v" x="520.3"/><use href="#v" x="539.3"/><use href="#v" x="552"/><use href="#v" x="558.3"/><use href="#v" x="571"/><use href="#v" x="583.7"/><use href="#v" x="621.7"/><use href="#r" x="640.7"/><use href="#r" x="647"/><rect x="659.7" y="0.4" width="4.2" height="11.4" fill="#ffaa00"/><rect x="666" y="0.4" width="4.2" height="11.4" fill="#ffee00"/></g>
</g>

<!-- bottom legends -->
<g id="legend-st">
<text x="5" y="894" font-size="8" fill="#333">ST</text>
<circle class="d101" cx="22.7" cy="885" r="2.6"/><text class="lg" x="31" y="886.8">101</text>
<circle class="d28" cx="49" cy="885" r="2.6"/><text class="lg" x="57" y="886.8">28</text>
<circle class="d38" cx="71" cy="885" r="2.6"/><text class="lg" x="80" y="886.8">38</text>
<circle class="d46" cx="97.3" cy="885" r="2.6"/><text class="lg" x="104" y="886.8">46</text>
<circle class="d242" cx="22.7" cy="897.7" r="2.6"/><text class="lg" x="31" y="899.5">242</text>
<circle class="d36" cx="49" cy="897.7" r="2.6"/><text class="lg" x="57" y="899.5">36</text>
<circle class="d458" cx="71" cy="897.7" r="2.6"/><text class="lg" x="80" y="899.5">458</text>
<circle class="d63" cx="97.3" cy="897.7" r="2.6"/><text class="lg" x="104" y="899.5">63</text>
</g>
<g id="legend-emm-type">
<text x="139.7" y="893" font-size="6.5" fill="#333">EMM_type</text>
<rect x="173.3" y="873.3" width="8.7" height="8.7" fill="#228b22"/><text class="lg" x="185" y="879.3">EMM1.0</text>
<rect x="173.3" y="886" width="8.7" height="8.7" fill="#66cc00"/><text class="lg" x="185" y="892">EMM1.25</text>
<rect x="173.3" y="897.7" width="8.7" height="8.7" fill="#9acd32"/><text class="lg" x="185" y="903.7">EMM1.52</text>
<rect x="210.7" y="873.3" width="8.7" height="8.7" fill="#b22222"/><text class="lg" x="222.7" y="879.3">EMM12.0</text>
<rect x="210.7" y="886" width="8.7" height="8.7" fill="#f06464"/><text class="lg" x="222.7" y="892">EMM12.19</text>
<rect x="210.7" y="897.7" width="8.7" height="8.7" fill="#ffa07a"/><text class="lg" x="222.7" y="903.7">EMM12.101</text>
<rect x="254" y="873.3" width="8.7" height="8.7" fill="#6cb8f8"/><text class="lg" x="265.7" y="879.3">EMM22.21</text>
<rect x="254" y="886" width="8.7" height="8.7" fill="#b452d4"/><text class="lg" x="265.7" y="892">EMM28.0</text>
<rect x="254" y="897.7" width="8.7" height="8.7" fill="#4169e1"/><text class="lg" x="265.7" y="903.7">EMM4.0</text>
<rect x="294.3" y="873.3" width="8.7" height="8.7" fill="#eeaaee"/><text class="lg" x="306" y="879.3">EMM77.0</text>
<rect x="294.3" y="886" width="8.7" height="8.7" fill="#c2f5c2"/><text class="lg" x="306" y="892">EMM89.0</text>
</g>
<g id="legend-emm-cluster">
<text x="352.7" y="894.5" font-size="6" fill="#333">EMM_cluster</text>
<rect x="393.3" y="889" width="8" height="8" fill="#f7b52c"/><text class="lg" x="405.3" y="895">A-C3</text>
<rect x="420.7" y="889" width="8" height="8" fill="#fa8a50"/><text class="lg" x="432.7" y="895">A-C4</text>
<rect x="447.7" y="889" width="8" height="8" fill="#c8288c"/><text class="lg" x="460" y="895">E1</text>
<rect x="469.7" y="889" width="8" height="8" fill="#b0cce8"/><text class="lg" x="482" y="895">E4</text>
</g>
<g id="legend-genes">
<text x="514" y="887" font-size="7.5" fill="#333">Virulence genes</text>
<rect x="571.7" y="878.7" width="9" height="9.3" fill="#1f87e8" stroke="#ccc" stroke-width="0.4"/><text class="lg" x="583.7" y="885.5">present</text>
<rect x="604.3" y="878.7" width="9" height="9.3" fill="#ebebeb" stroke="#ccc" stroke-width="0.4"/><text class="lg" x="616.7" y="885.5">absent</text>
<text x="515" y="900.5" font-size="7.5" fill="#333">AMR genes</text>
<rect x="571.7" y="892.7" width="9" height="9.3" fill="#f04408" stroke="#ccc" stroke-width="0.4"/><text class="lg" x="583.7" y="899.5">present</text>
<rect x="604.3" y="892.7" width="9" height="9.3" fill="#ebebeb" stroke="#ccc" stroke-width="0.4"/><text class="lg" x="616.7" y="899.5">absent</text>
</g>
<g id="legend-value">
<text x="661" y="875" font-size="3.3" fill="#444">value</text>
<rect x="662" y="876.7" width="6.3" height="31.6" fill="url(#vg)"/>
<g font-size="3.3" fill="#444">
<text x="670.3" y="879.9">5</text><text x="670.3" y="885.8">4</text><text x="670.3" y="891.7">3</text><text x="670.3" y="897.6">2</text><text x="670.3" y="903.5">1</text><text x="670.3" y="909.4">0</text>
</g>
</g>
</svg>
